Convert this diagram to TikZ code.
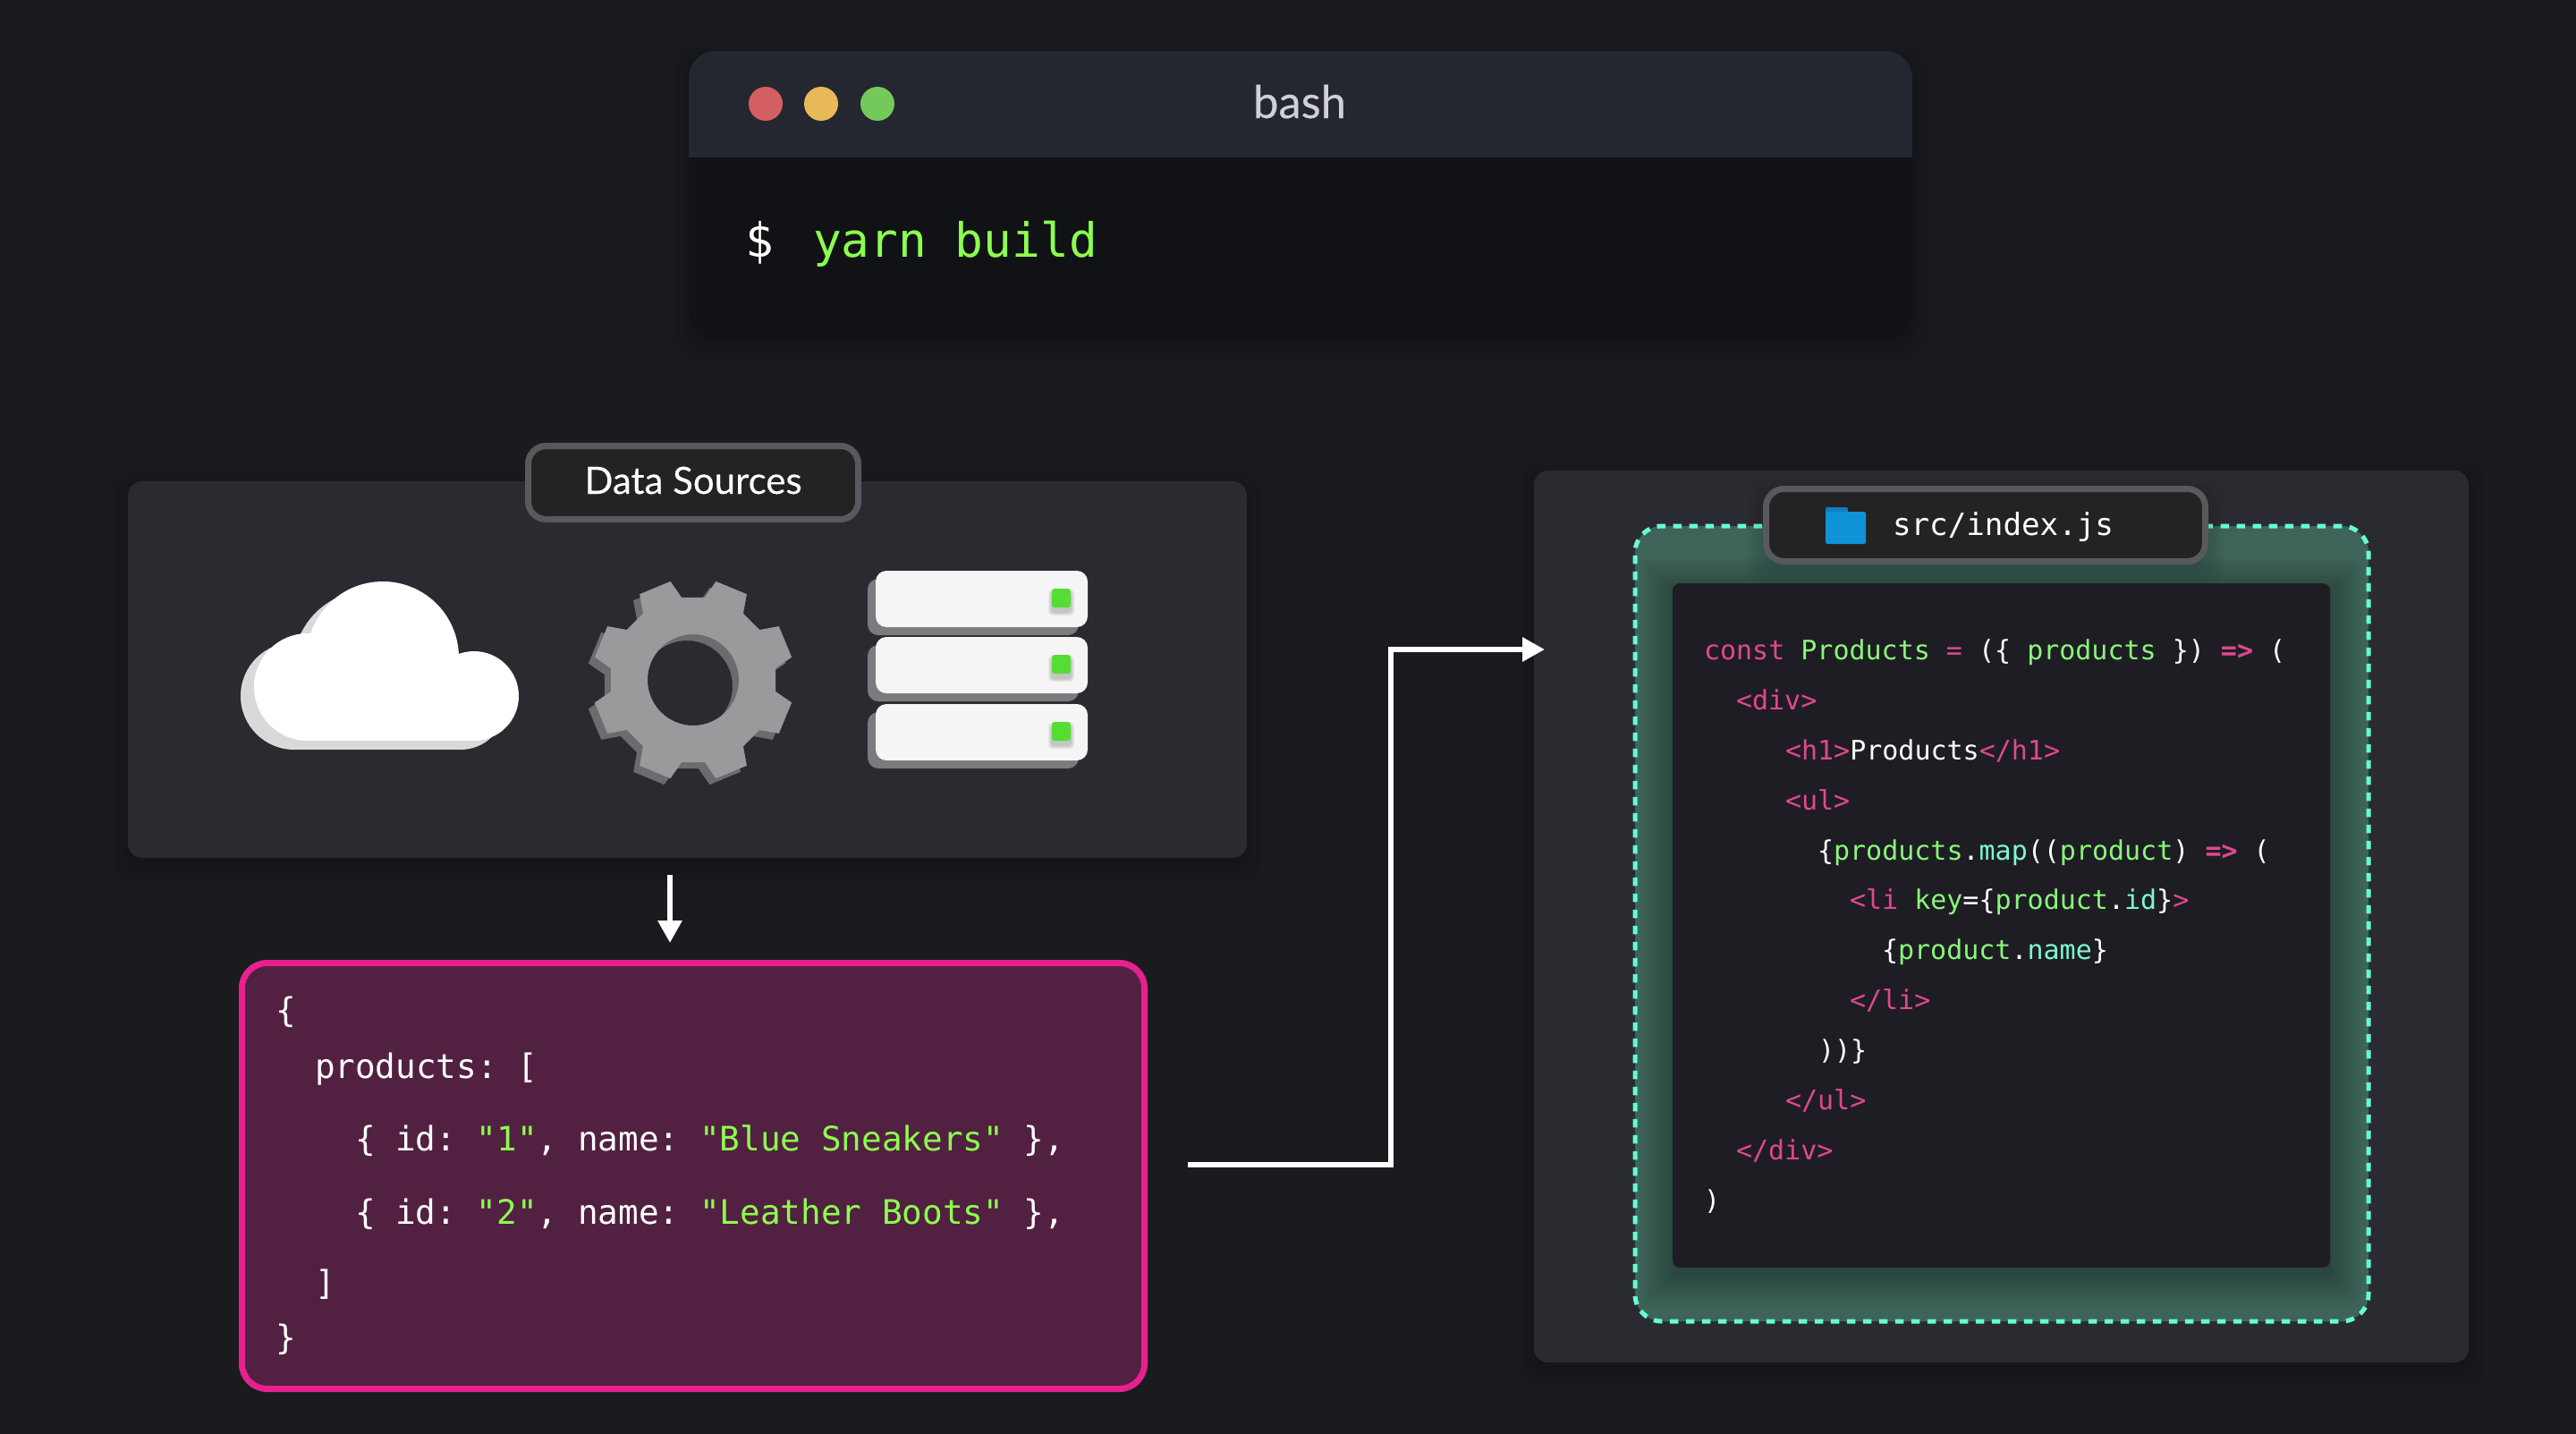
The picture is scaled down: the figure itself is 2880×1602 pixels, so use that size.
\documentclass[tikz,border=0pt]{standalone}
\usepackage{fontspec}
\setmainfont{Lato}
\setmonofont{DejaVu Sans Mono}
\newfontfamily\bashfont[FakeBold=0.35]{Lato}
\newfontfamily\dsfont[FakeBold=0.15]{Lato}
\usetikzlibrary{arrows.meta}
\definecolor{bgc}{HTML}{1A1B1F}
\definecolor{panelc}{HTML}{2A2B31}
\definecolor{headc}{HTML}{252730}
\definecolor{termc}{HTML}{111215}
\definecolor{codec}{HTML}{1E1D24}
\definecolor{tealfill}{HTML}{3E6459}
\definecolor{tealline}{HTML}{66FBD6}
\definecolor{pk}{HTML}{E0488F}
\definecolor{gn}{HTML}{8AF77A}
\definecolor{lime}{HTML}{8CFF4F}
\definecolor{cy}{HTML}{7DF8CC}
\definecolor{jsonfill}{HTML}{522040}
\definecolor{jsonline}{HTML}{E6218E}
\definecolor{gearc}{HTML}{9A9A9C}
\definecolor{gearshade}{HTML}{6C6C6F}
\definecolor{srvc}{HTML}{F5F5F6}
\definecolor{srvshade}{HTML}{7B7B7D}
\definecolor{led}{HTML}{55DD33}
\definecolor{tabfill}{HTML}{232323}
\definecolor{tabline}{HTML}{58595D}
\definecolor{dotred}{HTML}{D45F60}
\definecolor{dotyel}{HTML}{E8B957}
\definecolor{dotgrn}{HTML}{75C95C}
\definecolor{bashc}{HTML}{D0D0D5}
\definecolor{foldera}{HTML}{0B7FBF}
\definecolor{folderb}{HTML}{0F92D6}
\newcommand{\pk}[1]{\textcolor{pk}{#1}}
\newcommand{\gn}[1]{\textcolor{gn}{#1}}
\newcommand{\cy}[1]{\textcolor{cy}{#1}}
\newcommand{\lm}[1]{\textcolor{lime}{#1}}
\newcommand{\softshadow}[7]{% x1 y1 x2 y2 radius spread opacity
  \foreach \s in {#6,...,0}{
    \fill[black,opacity=#7,rounded corners=#5] (#1-\s*4,#2-\s*4+8) rectangle (#3+\s*4,#4+\s*4+8);
  }}
\newcommand{\gearshape}{
  (0:92) \foreach \k in {0,...,7}{
    -- ({\k*45+8}:93) -- ({\k*45+13}:113) -- ({\k*45+32}:113) -- ({\k*45+37}:93) -- ({\k*45+45}:92)
  } -- cycle (0:51) arc[start angle=0,end angle=360,radius=51]
}
\newcommand{\cloudshape}[1]{
  \fill[#1] (344,768) circle[radius=60];
  \fill[#1] (428,735) circle[radius=85];
  \fill[#1] (530,778) circle[radius=50];
  \fill[#1] (344,768) rectangle (530,828);
}
\newcommand{\serverunit}[1]{
  \fill[srvshade,rounded corners=6pt] (970,#1+9) rectangle (1206,#1+72);
  \fill[srvc,rounded corners=6pt] (979,#1) rectangle (1216,#1+63);
  \foreach \s in {4,3,2,1}{
    \fill[black,opacity=0.05,rounded corners=2pt] (1176-\s,#1+20-\s+5) rectangle (1197+\s,#1+41+\s+5);
  }
  \fill[led,rounded corners=1.5pt] (1176,#1+20) rectangle (1197,#1+41);
}
\tikzset{
  x=0.5pt,y=-0.5pt,
  txt/.style={inner sep=0pt,outer sep=0pt,text=white},
  mono/.style={txt,anchor=base west,font=\ttfamily\fontsize{15}{18}\selectfont},
  json/.style={txt,anchor=base west,font=\ttfamily\fontsize{18.82}{22}\selectfont},
  term/.style={txt,anchor=base west,font=\ttfamily\fontsize{26.4}{30}\selectfont},
  flow/.style={draw=white,line width=3pt,-{Triangle[length=12.5pt,width=13pt]}},
  dot/.style={circle,inner sep=0pt,outer sep=0pt,minimum size=19pt},
  panel/.style={fill=panelc,rounded corners=8pt,inner sep=0pt,outer sep=0pt},
  tab/.style={draw=tabline,fill=tabfill,line width=3.5pt,rounded corners=10pt,inner sep=0pt,outer sep=0pt},
}
\begin{document}
\begin{tikzpicture}
\useasboundingbox (0,0) rectangle (2880,1602);
\fill[bgc] (-10,-10) rectangle (2890,1612);
% terminal
\softshadow{770}{57}{2138}{380}{14pt}{5}{0.025}
\node[fill=termc,rounded corners=15pt,inner sep=0pt,minimum width=684pt,minimum height=161.5pt] (terminal) at (1454,218.5) {};
\begin{scope}
  \clip[rounded corners=15pt] (770,57) rectangle (2138,380);
  \fill[headc] (770,57) rectangle (2138,176);
\end{scope}
\node[dot,fill=dotred] (dotr) at (856,116) {};
\node[dot,fill=dotyel] (doty) at (918,116) {};
\node[dot,fill=dotgrn] (dotg) at (981,116) {};
\node[txt,anchor=base,text=bashc,font=\bashfont\fontsize{25.4}{30}\selectfont] (bash) at (1453,132) {bash};
\node[term] (prompt) at (833,287) {\$};
\node[term,text=lime] (cmd) at (909,287) {yarn build};
% data sources panel
\softshadow{143}{538}{1394}{959}{8pt}{5}{0.025}
\node[panel,minimum width=625.5pt,minimum height=210.5pt] (dspanel) at (768.5,748.5) {};
\node[tab,minimum width=184.5pt,minimum height=41pt] (dstab) at (775,539.5) {};
\node[txt,anchor=base,font=\dsfont\fontsize{21}{24}\selectfont] (dslabel) at (775,552) {Data Sources};
% cloud
\begin{scope}[shift={(-15,10)}]
  \cloudshape{black!15}
\end{scope}
\cloudshape{white}
% gear
\begin{scope}[shift={(768,767)}]
  \fill[gearshade,even odd rule] \gearshape;
\end{scope}
\begin{scope}[shift={(775,760)}]
  \fill[gearc,even odd rule] \gearshape;
\end{scope}
% servers
\serverunit{638}
\serverunit{712}
\serverunit{787}
% json box
\node[draw=jsonline,fill=jsonfill,line width=3.5pt,rounded corners=14pt,inner sep=0pt,outer sep=0pt,minimum width=504.5pt,minimum height=238pt] (jsonbox) at (775,1314.5) {};
\node[json] (j1) at (308,1142) {\{};
\node[json] (j2) at (352,1205) {products: [};
\node[json] (j3) at (397,1286) {\{ id: \lm{"1"}, name: \lm{"Blue Sneakers"} \},};
\node[json] (j4) at (397,1368) {\{ id: \lm{"2"}, name: \lm{"Leather Boots"} \},};
\node[json] (j5) at (352,1447) {]};
\node[json] (j6) at (308,1508) {\}};
% code panel
\softshadow{1716}{526}{2760}{1523}{8pt}{5}{0.025}
\node[panel,minimum width=522.5pt,minimum height=498.5pt] (codepanel) at (2237.5,1024.5) {};
\node[draw=tealline,fill=tealfill,line width=2.5pt,dash pattern=on 4.75pt off 4.25pt,rounded corners=15pt,inner sep=0pt,outer sep=0pt,minimum width=410pt,minimum height=444.5pt] (tealbox) at (2238,1032.5) {};
\softshadow{1870}{652}{2605}{1417}{4pt}{9}{0.028}
\softshadow{1974}{546}{2466}{628}{10pt}{5}{0.025}
\node[tab,minimum width=245.5pt,minimum height=40.5pt] (srctab) at (2220,587) {};
\fill[foldera,rounded corners=1pt] (2041,567) rectangle (2066,585);
\fill[folderb,rounded corners=1pt] (2041,572) rectangle (2086,608);
\node[mono,font=\ttfamily\fontsize{17.1}{20}\selectfont] (srclabel) at (2116,598) {src/index.js};
\node[fill=codec,rounded corners=4pt,inner sep=0pt,outer sep=0pt,minimum width=367.5pt,minimum height=382.5pt] (codebox) at (2237.5,1034.5) {};
\node[mono] (c1) at (1905,737) {\pk{const} \gn{Products} \pk{=} (\{ \gn{products} \}) \pk{\bfseries =>} (};
\node[mono] (c2) at (1941,793) {\pk{<div>}};
\node[mono] (c3) at (1996,849) {\pk{<h1>}Products\pk{</h1>}};
\node[mono] (c4) at (1996,905) {\pk{<ul>}};
\node[mono] (c5) at (2032,961) {\{\gn{products}.\cy{map}((\gn{product}) \pk{\bfseries =>} (};
\node[mono] (c6) at (2068,1016) {\pk{<li} \gn{key}=\{\gn{product}.\cy{id}\}\pk{>}};
\node[mono] (c7) at (2104,1072) {\{\gn{product}.\cy{name}\}};
\node[mono] (c8) at (2068,1128) {\pk{</li>}};
\node[mono] (c9) at (2033,1184) {))\}};
\node[mono] (c10) at (1996,1240) {\pk{</ul>}};
\node[mono] (c11) at (1941,1296) {\pk{</div>}};
\node[mono] (c12) at (1905,1352) {)};
% connectors
\coordinate (downstart) at (749,978);
\coordinate (downend) at (749,1054);
\coordinate (jsonout) at (1328,1302);
\coordinate (elbow) at (1555,726);
\coordinate (codein) at (1727,726);
\draw[flow] (downstart) -- (downend);
\draw[flow] (jsonout) -| (elbow) -- (codein);
\end{tikzpicture}
\end{document}
